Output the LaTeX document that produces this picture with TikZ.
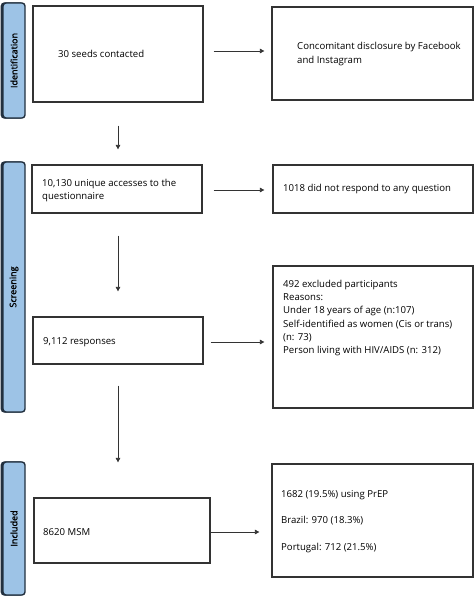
\documentclass[tikz,border=0pt]{standalone}
\usepackage{fontspec}
\setmainfont{Open Sans}
\newfontfamily\sidefont{Open Sans}[FakeBold=1.5]
\usetikzlibrary{arrows.meta}
\definecolor{sidefill}{HTML}{9DC3E6}
\definecolor{sidedraw}{HTML}{22303F}
\definecolor{boxdraw}{HTML}{333333}
\tikzset{
  x=1pt, y=-1pt,
  box/.style={draw=boxdraw, line width=1.2pt, rectangle, inner sep=0pt},
  side/.style={draw=sidedraw, fill=sidefill, line width=1.4pt, rounded corners=3pt,
     rotate=90, minimum height=22pt, inner sep=0pt,
     font=\sidefont\fontsize{9}{10}\selectfont,
     preaction={draw=sidedraw, line width=1.4pt, fill=sidedraw, transform canvas={xshift=-1.6pt}}},
  txt/.style={anchor=west, align=left, inner sep=0pt, font=\fontsize{9.6}{13.2}\selectfont},
  arr/.style={draw=black!80, line width=0.7pt, -{Triangle[length=4.5pt,width=4.5pt]}}
}
\begin{document}
\begin{tikzpicture}
\useasboundingbox (0,0) rectangle (474,597);
\fill[white] (0,0) rectangle (474,597);
% side labels
\node[side, minimum width=115pt] (sid) at (14,60.5) {Identification};
\node[side, minimum width=250pt] (ssc) at (14,287) {Screening};
\node[side, minimum width=133pt] (sin) at (14,528.5) {Included};
% boxes
\node[box, minimum width=170pt, minimum height=96pt] (b1) at (118,54) {};
\node[box, minimum width=201pt, minimum height=93pt] (b2) at (372.5,53.5) {};
\node[box, minimum width=170pt, minimum height=48pt] (b3) at (117,189) {};
\node[box, minimum width=200pt, minimum height=48pt] (b4) at (373,189) {};
\node[box, minimum width=170pt, minimum height=47pt] (b5) at (118,340.5) {};
\node[box, minimum width=200pt, minimum height=142pt] (b6) at (373,337) {};
\node[box, minimum width=176pt, minimum height=65pt] (b7) at (122,530.5) {};
\node[box, minimum width=201pt, minimum height=113pt] (b8) at (372.5,520.5) {};
% texts
\node[txt] (t1) at (58,54) {30 seeds contacted};
\node[txt] (t2) at (297,54) {Concomitant disclosure by Facebook\\and Instagram};
\node[txt] (t3) at (42,190.5) {10,130 unique accesses to the\\questionnaire};
\node[txt] (t4) at (283,189.5) {1018 did not respond to any question};
\node[txt] (t5) at (43,342) {9,112 responses};
\node[txt] (t6) at (283,318) {492 excluded participants\\Reasons:\\Under 18 years of age (n:107)\\Self-identified as women (Cis or trans)\\(n: 73)\\Person living with HIV/AIDS (n: 312)};
\node[txt] (t7) at (43,532) {8620 MSM};
\node[txt, font=\fontsize{9.6}{26.5}\selectfont] (t8) at (281,521.5) {1682 (19.5\%) using PrEP\\Brazil: 970 (18.3\%)\\Portugal: 712 (21.5\%)};
% horizontal arrows
\draw[arr, shorten <=10pt, shorten >=7pt] ([yshift=3pt]b1.east) -- ([yshift=3pt]b1.east -| b2.west);
\draw[arr, shorten <=11pt, shorten >=8pt] ([yshift=-1pt]b3.east) -- ([yshift=-1pt]b3.east -| b4.west);
\draw[arr, shorten <=7pt, shorten >=8pt] ([yshift=-1.5pt]b5.east) -- ([yshift=-1.5pt]b5.east -| b6.west);
\draw[arr, shorten >=12pt] ([yshift=-1.5pt]b7.east) -- ([yshift=-1.5pt]b7.east -| b8.west);
% vertical arrows
\draw[arr, shorten <=23pt, shorten >=15pt] (b1.south) -- (b1.south |- b3.north);
\draw[arr, shorten <=22pt, shorten >=25pt] ([xshift=1pt]b3.south) -- ([xshift=1pt]b3.south |- b5.north);
\draw[arr, shorten <=21pt, shorten >=35pt] (b5.south) -- (b5.south |- b7.north);
\end{tikzpicture}
\end{document}
